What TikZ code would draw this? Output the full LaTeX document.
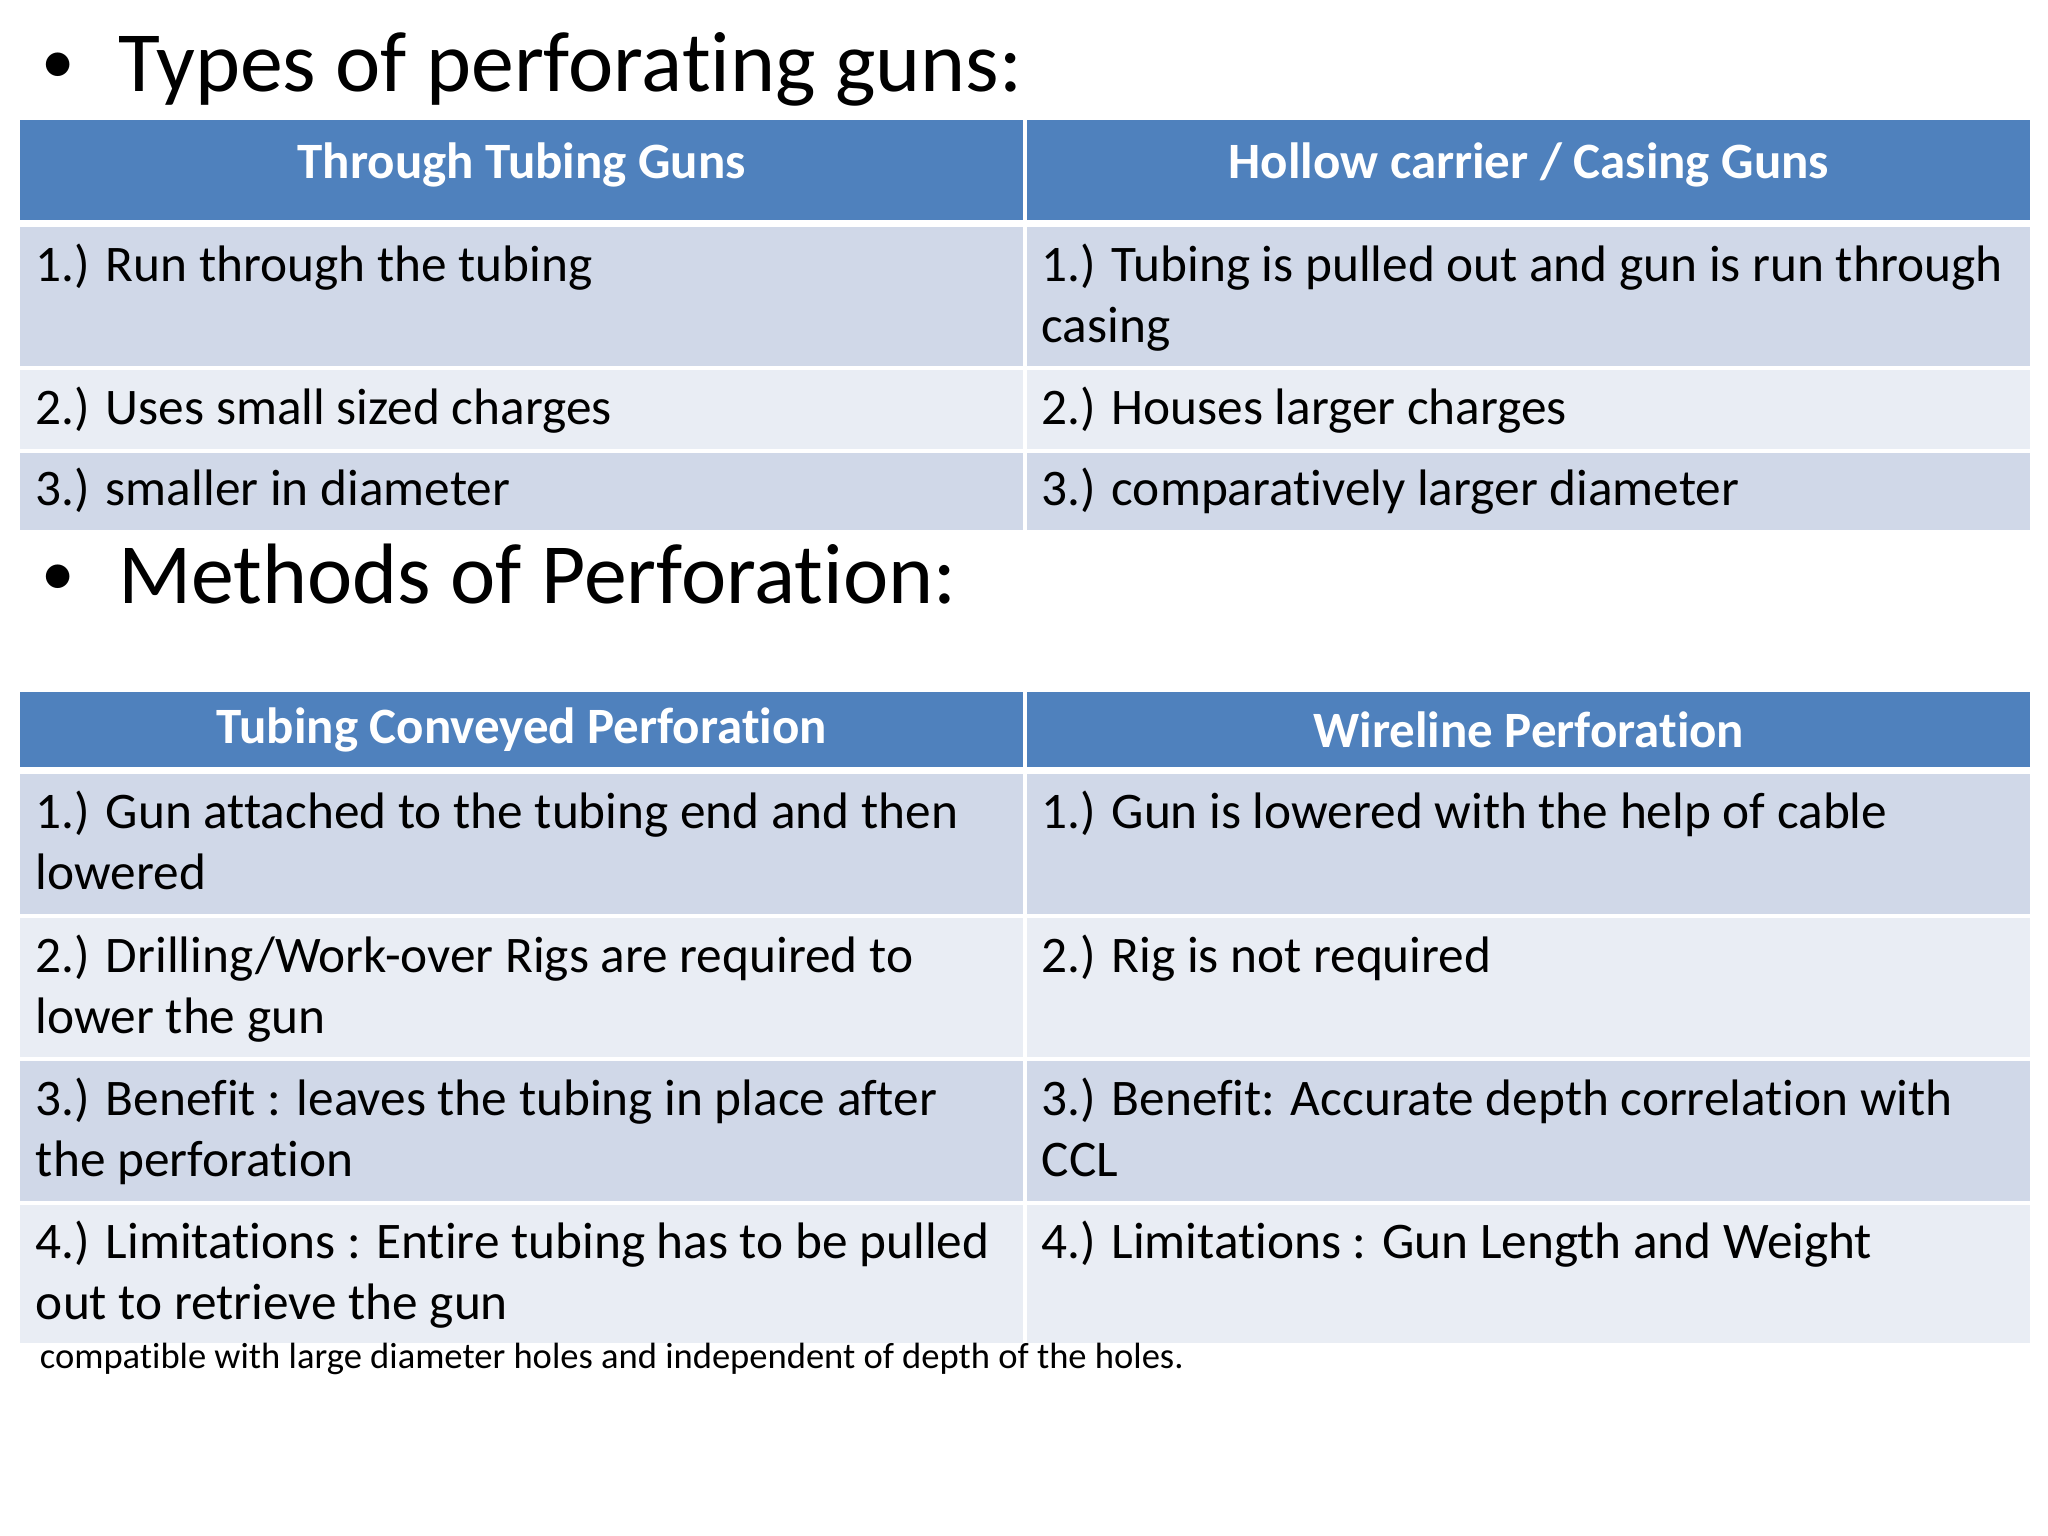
\documentclass[tikz,border=0pt]{standalone}
\usepackage{fontspec}
\setmainfont[Ligatures=CommonOff]{Carlito}
\begin{document}
\begin{tikzpicture}[x=0.01306cm,y=-0.01306cm,
  cell/.style={draw=none,anchor=north west,inner sep=0pt,minimum width=768*0.01306cm},
  hdr/.style={cell,fill=hblue},
  dk/.style={cell,fill=rdark},
  lt/.style={cell,fill=rlight},
  htxt/.style={text=white,font=\fontsize{14.5}{17.4}\selectfont\bfseries},
  btxt/.style={anchor=north west,inner sep=0pt,align=left,font=\fontsize{14.6}{17.4}\selectfont},
  ttl/.style={anchor=base west,inner sep=0pt,font=\fontsize{24.4}{28}\selectfont}]
\definecolor{hblue}{HTML}{4F81BD}
\definecolor{rdark}{HTML}{D0D8E8}
\definecolor{rlight}{HTML}{E9EDF4}
\useasboundingbox[fill=white] (0,0) rectangle (1568,1176);
% titles
\node[ttl,font=\fontsize{19}{20}\selectfont] (b1) at (31,64) {•};
\node[ttl] (t1) at (90,70) {Types of perforating guns:};
\node[ttl,font=\fontsize{19}{20}\selectfont] (b2) at (31,456) {•};
\node[ttl] (t2) at (90,462) {Methods of Perforation:};
% table 1
\node[hdr,minimum height=77*0.01306cm] (h1a) at (15,91) {};
\node[hdr,minimum height=77*0.01306cm] (h1b) at (786,91) {};
\node[htxt] at ([yshift=4*0.01306cm]h1a.center) {Through Tubing Guns};
\node[htxt] at ([yshift=4*0.01306cm]h1b.center) {Hollow carrier / Casing Guns};
\node[dk,minimum height=107*0.01306cm] (a1) at (15,173) {};
\node[dk,minimum height=107*0.01306cm] (b1c) at (786,173) {};
\node[lt,minimum height=60*0.01306cm] (a2) at (15,283) {};
\node[lt,minimum height=60*0.01306cm] (b2c) at (786,283) {};
\node[dk,minimum height=59*0.01306cm] (a3) at (15,346) {};
\node[dk,minimum height=59*0.01306cm] (b3c) at (786,346) {};
\node[btxt] at (27,186) {1.) Run through the tubing};
\node[btxt] at (797,186) {1.) Tubing is pulled out and gun is run through\\casing};
\node[btxt] at (27,296) {2.) Uses small sized charges};
\node[btxt] at (797,296) {2.) Houses larger charges};
\node[btxt] at (27,358) {3.) smaller in diameter};
\node[btxt] at (797,358) {3.) comparatively larger diameter};
% table 2
\node[hdr,minimum height=58*0.01306cm] (h2a) at (15,529) {};
\node[hdr,minimum height=58*0.01306cm] (h2b) at (786,529) {};
\node[htxt] at (h2a) {Tubing Conveyed Perforation};
\node[htxt] at (h2b) {Wireline Perforation};
\node[dk,minimum height=107*0.01306cm] (c1) at (15,592) {};
\node[dk,minimum height=107*0.01306cm] (d1) at (786,592) {};
\node[lt,minimum height=107*0.01306cm] (c2) at (15,702) {};
\node[lt,minimum height=107*0.01306cm] (d2) at (786,702) {};
\node[dk,minimum height=107*0.01306cm] (c3) at (15,812) {};
\node[dk,minimum height=107*0.01306cm] (d3) at (786,812) {};
\node[lt,minimum height=106*0.01306cm] (c4) at (15,922) {};
\node[lt,minimum height=106*0.01306cm] (d4) at (786,922) {};
\node[btxt] at (27,605) {1.) Gun attached to the tubing end and then\\lowered};
\node[btxt] at (797,605) {1.) Gun is lowered with the help of cable};
\node[btxt] at (27,715) {2.) Drilling/Work-over Rigs are required to\\lower the gun};
\node[btxt] at (797,715) {2.) Rig is not required};
\node[btxt] at (27,825) {3.) Benefit : leaves the tubing in place after\\the perforation};
\node[btxt] at (797,825) {3.) Benefit: Accurate depth correlation with\\CCL};
\node[btxt] at (27,934) {4.) Limitations : Entire tubing has to be pulled\\out to retrieve the gun};
\node[btxt] at (797,934) {4.) Limitations : Gun Length and Weight};
\node[anchor=base west,inner sep=0pt,font=\fontsize{10.4}{12}\selectfont] (fn) at (30,1048) {compatible with large diameter holes and independent of depth of the holes.};
\end{tikzpicture}
\end{document}
